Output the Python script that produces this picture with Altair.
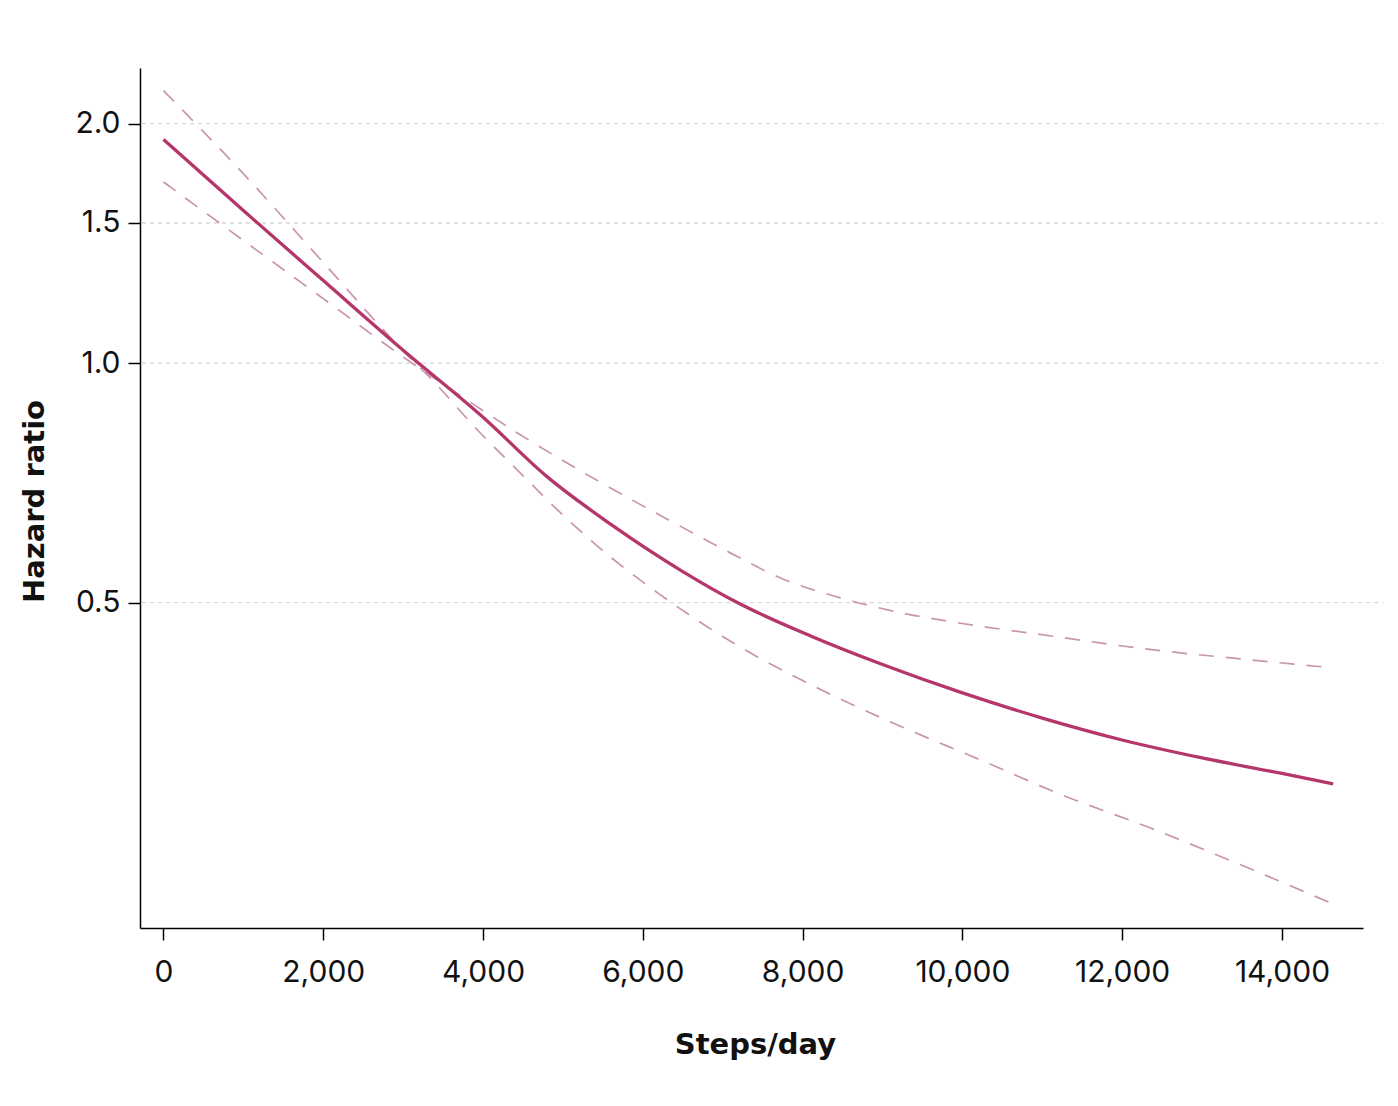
import altair as alt
import pandas as pd

# ---- data ----
steps_main = [0, 1000, 2000, 3000, 4000, 4800, 5600, 6500, 7200, 8100, 9000,
              10000, 11000, 12000, 13000, 14000, 14640]
hr_main = [1.91, 1.555, 1.27, 1.038, 0.855, 0.72, 0.627, 0.547, 0.499, 0.454,
           0.418, 0.385, 0.358, 0.336, 0.319, 0.305, 0.296]

steps_ci_a = [0, 1000, 2000, 3000, 3340, 3930, 4470, 5030, 5600, 6190, 6810,
              7440, 8000, 9100, 10230, 11270, 12330, 13400, 14640]
hr_ci_a = [2.20, 1.73, 1.338, 1.036, 0.958, 0.824, 0.727, 0.640, 0.570, 0.514,
           0.466, 0.427, 0.399, 0.354, 0.317, 0.286, 0.261, 0.236, 0.209]

steps_ci_b = [0, 1000, 2000, 3000, 3760, 4430, 5100, 5760, 6440, 7100, 7760,
              8440, 9170, 9980, 11110, 12230, 13360, 14640]
hr_ci_b = [1.689, 1.426, 1.205, 1.018, 0.904, 0.817, 0.744, 0.682, 0.626,
           0.577, 0.535, 0.508, 0.487, 0.471, 0.454, 0.438, 0.426, 0.414]

x_ticks = [0, 2000, 4000, 6000, 8000, 10000, 12000, 14000]
y_ticks = [0.5, 1.0, 1.5, 2.0]

MAIN = "#b5366b"
CI = "#c995ab"
LABEL_FONT = "Inter"
TITLE_FONT = "DejaVu Sans"

main_df = pd.DataFrame({"steps": steps_main, "hr": hr_main})
ci_df = pd.concat([
    pd.DataFrame({"steps": steps_ci_a, "hr": hr_ci_a, "band": "a"}),
    pd.DataFrame({"steps": steps_ci_b, "hr": hr_ci_b, "band": "b"}),
])
grid_df = pd.DataFrame({"hr": y_ticks})

xscale = alt.Scale(domain=[-294, 15014], nice=False, zero=False)
yscale = alt.Scale(type="log", domain=[0.195, 2.349], nice=False)

xaxis = alt.Axis(
    values=x_ticks, format=",.0f", grid=False,
    labelFont=LABEL_FONT, labelFontSize=30, labelColor="#111111",
    labelPadding=17, tickSize=12, tickWidth=1.5, tickColor="#000000",
    domainColor="#000000", domainWidth=1.5, labelFlush=False,
    title="Steps/day", titleFont=TITLE_FONT, titleFontSize=29,
    titleFontWeight="bold", titleColor="#111111",
    titleY=125, titleX=615, titleBaseline="alphabetic",
)
yaxis = alt.Axis(
    values=y_ticks, format=".1f", grid=False,
    labelFont=LABEL_FONT, labelFontSize=30, labelColor="#111111",
    labelPadding=8, tickSize=12, tickWidth=1.5, tickColor="#000000",
    domainColor="#000000", domainWidth=1.5,
    title="Hazard ratio", titleFont=TITLE_FONT, titleFontSize=29,
    titleFontWeight="bold", titleColor="#111111",
    titleX=-97, titleY=433, titleAngle=270, titleBaseline="alphabetic",
)

grid = alt.Chart(grid_df).mark_rule(
    color="#d6d6d6", strokeDash=[4, 4], strokeWidth=1.3
).encode(
    y=alt.Y("hr:Q", scale=yscale, axis=yaxis),
    x=alt.value(2),
    x2=alt.value(1243),
)

ci = alt.Chart(ci_df).mark_line(
    color=CI, strokeDash=[15, 12], strokeWidth=1.7, interpolate="monotone"
).encode(
    x=alt.X("steps:Q", scale=xscale, axis=xaxis),
    y=alt.Y("hr:Q", scale=yscale, axis=yaxis),
    detail="band:N",
)

main = alt.Chart(main_df).mark_line(
    color=MAIN, strokeWidth=3.3, interpolate="monotone"
).encode(
    x=alt.X("steps:Q", scale=xscale, axis=xaxis),
    y=alt.Y("hr:Q", scale=yscale, axis=yaxis),
)

chart = alt.layer(grid, ci, main).properties(
    width=1223,
    height=860,
    padding={"left": 132, "top": 60, "right": 20, "bottom": 165},
    autosize=alt.AutoSizeParams(type="none"),
    background="white",
).configure_view(stroke=None)

chart.save("out.html", embed_options={"renderer": "svg", "actions": False})
